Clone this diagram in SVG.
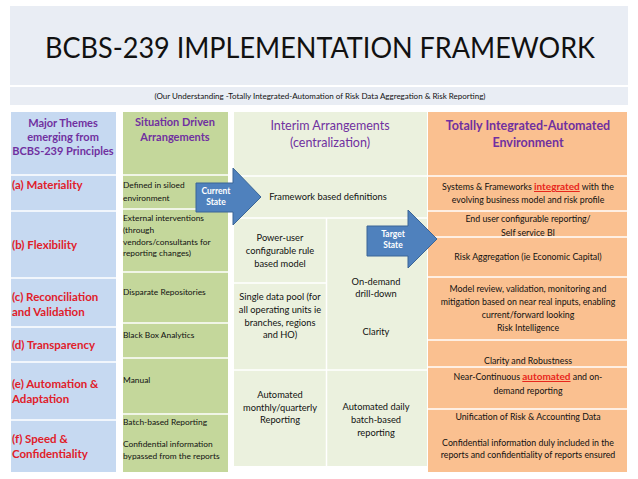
<svg xmlns="http://www.w3.org/2000/svg" width="638" height="479" viewBox="0 0 638 479">
<style>
text{font-family:Lato,"Open Sans","Liberation Sans",sans-serif;fill:#111}
.c{text-anchor:middle}
.ph{fill:#7030a0;font-weight:bold}
.th{fill:#e0202a;font-weight:bold;font-size:11.5px}
.s2{font-size:8.4px}
.s3{font-size:9.3px}
.s4{font-size:8.8px}
.hl{fill:#e8261c;font-weight:bold;text-decoration:underline}
.blue{fill:#c6d9f1}.grn{fill:#c4d79b}.lg{fill:#ebf1de}.org{fill:#fac090}
.sep{stroke:#fff;stroke-width:1.5}
.arr{fill:#4f81bd;stroke:#3a6596;stroke-width:1}
.at{fill:#fff;font-weight:bold;font-size:8.5px;text-anchor:middle}
</style>
<rect width="638" height="479" fill="#fff"/>
<g id="title">
<rect x="10" y="6" width="618" height="79" fill="#e9edf4"/>
<text x="320" y="58" class="c" font-size="28" textLength="550" lengthAdjust="spacingAndGlyphs">BCBS-239 IMPLEMENTATION FRAMEWORK</text>
<rect x="10" y="87" width="618" height="18" fill="#e9edf4"/>
<text x="320" y="99" class="c" font-size="8">(Our Understanding  -Totally Integrated-Automation of Risk Data Aggregation &amp; Risk Reporting)</text>
</g>
<g id="col1">
<rect class="blue" x="11" y="112" width="105" height="360"/>
<g class="sep"><line x1="11" y1="175" x2="116" y2="175"/><line x1="11" y1="211" x2="116" y2="211"/><line x1="11" y1="278" x2="116" y2="278"/><line x1="11" y1="327" x2="116" y2="327"/><line x1="11" y1="362" x2="116" y2="362"/><line x1="11" y1="420" x2="116" y2="420"/></g>
<text class="ph c" font-size="11" x="63" y="127">Major Themes</text>
<text class="ph c" font-size="11" x="63" y="141">emerging from</text>
<text class="ph c" font-size="11" x="63" y="155">BCBS-239 Principles</text>
<text class="th" x="12" y="189">(a) Materiality</text>
<text class="th" x="12" y="249">(b) Flexibility</text>
<text class="th" x="12" y="301">(c) Reconciliation</text>
<text class="th" x="12" y="316">and Validation</text>
<text class="th" x="12" y="349">(d) Transparency</text>
<text class="th" x="12" y="388">(e) Automation &amp;</text>
<text class="th" x="12" y="403">Adaptation</text>
<text class="th" x="12" y="443">(f) Speed &amp;</text>
<text class="th" x="12" y="458">Confidentiality</text>
</g>
<g id="col2">
<rect class="grn" x="123" y="112" width="105" height="360"/>
<g class="sep"><line x1="123" y1="175" x2="228" y2="175"/><line x1="123" y1="209" x2="228" y2="209"/><line x1="123" y1="272" x2="228" y2="272"/><line x1="123" y1="323" x2="228" y2="323"/><line x1="123" y1="358" x2="228" y2="358"/><line x1="123" y1="414" x2="228" y2="414"/></g>
<text class="ph c" font-size="11" x="175" y="126">Situation Driven</text>
<text class="ph c" font-size="11" x="175" y="141">Arrangements</text>
<text class="s2" x="123" y="188">Defined in siloed</text>
<text class="s2" x="123" y="201">environment</text>
<text class="s2" x="123" y="221">External interventions</text>
<text class="s2" x="123" y="233">(through</text>
<text class="s2" x="123" y="245">vendors/consultants for</text>
<text class="s2" x="123" y="256">reporting changes)</text>
<text class="s2" x="123" y="295">Disparate Repositories</text>
<text class="s2" x="123" y="338">Black Box Analytics</text>
<text class="s2" x="123" y="383">Manual</text>
<text class="s2" x="123" y="425">Batch-based Reporting</text>
<text class="s2" x="123" y="447">Confidential information</text>
<text class="s2" x="123" y="459">bypassed from the reports</text>
</g>
<g id="col3">
<rect class="lg" x="234" y="112" width="193" height="354"/>
<g class="sep"><line x1="234" y1="176" x2="427" y2="176"/><line x1="234" y1="218" x2="427" y2="218"/><line x1="326.5" y1="218" x2="326.5" y2="466"/><line x1="234" y1="283" x2="326" y2="283"/><line x1="234" y1="370" x2="427" y2="370"/></g>
<text class="ph c" font-size="12.5" font-weight="normal" x="330" y="130" style="font-weight:normal">Interim Arrangements</text>
<text class="ph c" font-size="12.5" x="330" y="147" style="font-weight:normal">(centralization)</text>
<text class="s3 c" x="328" y="200" font-size="9">Framework based definitions</text>
<text class="s3 c" x="280" y="241">Power-user</text>
<text class="s3 c" x="280" y="254">configurable rule</text>
<text class="s3 c" x="280" y="267">based model</text>
<text class="s3 c" x="280" y="300">Single data pool (for</text>
<text class="s3 c" x="280" y="313">all operating units ie</text>
<text class="s3 c" x="280" y="326">branches, regions</text>
<text class="s3 c" x="280" y="338">and HO)</text>
<text class="s3 c" x="280" y="398">Automated</text>
<text class="s3 c" x="280" y="411">monthly/quarterly</text>
<text class="s3 c" x="280" y="423">Reporting</text>
<text class="s3 c" x="376" y="285">On-demand</text>
<text class="s3 c" x="376" y="297">drill-down</text>
<text class="s3 c" x="376" y="335">Clarity</text>
<text class="s3 c" x="376" y="410">Automated daily</text>
<text class="s3 c" x="376" y="423">batch-based</text>
<text class="s3 c" x="376" y="436">reporting</text>
</g>
<g id="col4">
<rect class="org" x="428" y="112" width="199" height="360"/>
<g class="sep"><line x1="428" y1="176" x2="627" y2="176"/><line x1="428" y1="211" x2="627" y2="211"/><line x1="428" y1="237" x2="627" y2="237"/><line x1="428" y1="277" x2="627" y2="277"/><line x1="428" y1="340" x2="627" y2="340"/><line x1="428" y1="367" x2="627" y2="367"/><line x1="428" y1="409" x2="627" y2="409"/></g>
<text class="ph c" font-size="12.5" x="528" y="130">Totally Integrated-Automated</text>
<text class="ph c" font-size="12.5" x="528" y="147">Environment</text>
<text class="s4 c" x="528" y="190">Systems &amp; Frameworks <tspan class="hl" font-size="10">integrated</tspan> with the</text>
<text class="s4 c" x="528" y="203">evolving business model and risk profile</text>
<text class="s4 c" x="528" y="222">End user configurable reporting/</text>
<text class="s4 c" x="528" y="236">Self service BI</text>
<text class="s4 c" x="528" y="260">Risk Aggregation (ie Economic Capital)</text>
<text class="s4 c" x="528" y="292">Model review, validation, monitoring and</text>
<text class="s4 c" x="528" y="305">mitigation based on near real inputs, enabling</text>
<text class="s4 c" x="528" y="318">current/forward looking</text>
<text class="s4 c" x="528" y="331">Risk Intelligence</text>
<text class="s4 c" x="528" y="364">Clarity and Robustness</text>
<text class="s4 c" x="528" y="380">Near-Continuous <tspan class="hl" font-size="10">automated</tspan> and on-</text>
<text class="s4 c" x="528" y="394">demand reporting</text>
<text class="s4 c" x="528" y="420">Unification of Risk &amp; Accounting Data</text>
<text class="s4 c" x="528" y="446">Confidential information duly included in the</text>
<text class="s4 c" x="528" y="458">reports and confidentiality of reports ensured</text>
</g>
<g id="arrows">
<g id="current-state">
<path class="arr" d="M196,183 H233 V168 L261,197 L233,225 V212 H196 Z"/>
<text class="at" x="216" y="194">Current</text>
<text class="at" x="216" y="205">State</text>
</g>
<g id="target-state">
<path class="arr" d="M367,226 H408 V210 L437,239 L408,268 V256 H367 Z"/>
<text class="at" x="393" y="237">Target</text>
<text class="at" x="393" y="248">State</text>
</g>
</g>
</svg>
